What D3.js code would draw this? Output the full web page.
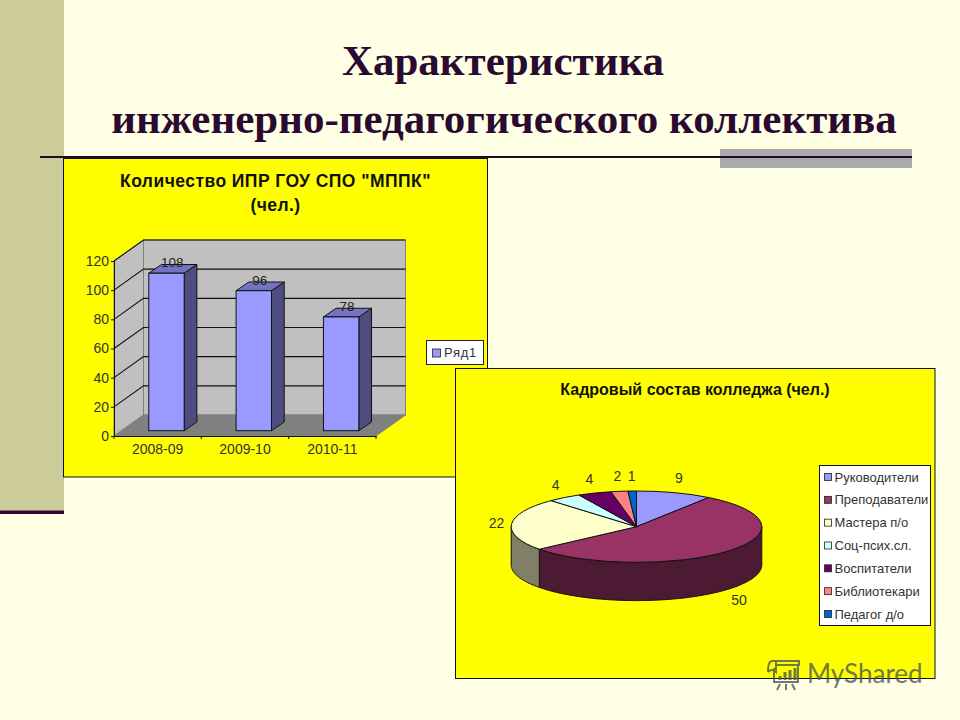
<!DOCTYPE html>
<html lang="ru">
<head>
<meta charset="utf-8">
<script src="https://cdn.jsdelivr.net/npm/d3@7/dist/d3.min.js"></script>
<style>
html,body{margin:0;padding:0;background:#FFFFE6;}
svg{display:block;}
text{font-family:"Liberation Sans",Arial,sans-serif;fill:#111;}
</style>
</head>
<body>
<svg id="c" width="960" height="720"></svg>
<script>
const titleLines = ["Характеристика", "инженерно-педагогического коллектива"];
const barTitle = ['Количество ИПР ГОУ СПО "МППК"', "(чел.)"];
const barCategories = ["2008-09", "2009-10", "2010-11"];
const barValues = [108, 96, 78];
const barSeriesName = "Ряд1";
const yTicks = [0, 20, 40, 60, 80, 100, 120];
const pieTitle = "Кадровый состав колледжа (чел.)";
const pieCategories = ["Руководители", "Преподаватели", "Мастера п/о", "Соц-псих.сл.", "Воспитатели", "Библиотекари", "Педагог д/о"];
const pieValues = [9, 50, 22, 4, 4, 2, 1];
const pieColors = ["#9999FF", "#993366", "#FFFFCC", "#CCFFFF", "#660066", "#FF8080", "#0066CC"];

const svg = d3.select("#c");
const rect = (g, x, y, w, h, fill, stroke, sw) => g.append("rect").attr("x", x).attr("y", y).attr("width", w).attr("height", h)
  .attr("fill", fill).attr("stroke", stroke || "none").attr("stroke-width", sw || 0);
const poly = (g, pts, fill, stroke, sw) => g.append("path").attr("d", d3.line()(pts) + "Z").attr("fill", fill)
  .attr("stroke", stroke || "none").attr("stroke-width", sw || 0).attr("stroke-linejoin", "round");

/* Slide background */
rect(svg, 0, 0, 960, 720, "#FFFFE6");
rect(svg, 0, 0, 64, 511, "#CCCC99");
rect(svg, 0, 510.5, 64, 3.5, "#330033");
rect(svg, 720, 149, 192, 19, "#ABABAF");
svg.append("line").attr("x1", 40).attr("x2", 912).attr("y1", 157).attr("y2", 157).attr("stroke", "#24082A").attr("stroke-width", 2);

svg.selectAll("text.head").data(titleLines).join("text").attr("class", "head")
  .attr("x", (d, i) => i ? 504 : 503).attr("y", (d, i) => i ? 133 : 74.5)
  .attr("text-anchor", "middle")
  .style("font-family", '"Liberation Serif","Times New Roman",serif').style("font-weight", 700).style("font-size", "43px")
  .style("fill", "#2A0A30").text(d => d);

/* Bar chart */
const bar = svg.append("g");
rect(bar, 63.5, 158.5, 424, 318.5, "#FFFF00", "#111", 1);
bar.selectAll("text.t").data(barTitle).join("text").attr("class", "t")
  .attr("x", 275.5).attr("y", (d, i) => 186.5 + i * 24.5).attr("text-anchor", "middle")
  .style("font-weight", 700).style("font-size", "17.5px").style("letter-spacing", "0.45px").text(d => d);

const yS = d3.scaleLinear().domain([0, 120]).range([436, 261]);
const xS = d3.scaleBand().domain(barCategories).range([114, 376]);
const depthX = 29.5, depthY = -21;
const x0 = xS.range()[0], x1 = xS.range()[1], y0 = yS(0), yT = yS(120);

poly(bar, [[x0, y0], [x0 + depthX, y0 + depthY], [x0 + depthX, yT + depthY], [x0, yT]], "#C0C0C0", "#808080", 1);
rect(bar, x0 + depthX, yT + depthY, x1 - x0, y0 - yT, "#C0C0C0", "#808080", 1);
poly(bar, [[x0, y0], [x1, y0], [x1 + depthX, y0 + depthY], [x0 + depthX, y0 + depthY]], "#808080", "#808080", 1);

const grid = yTicks.filter(v => v > 0);
bar.selectAll("path.g").data(grid).join("path").attr("class", "g")
  .attr("d", v => d3.line()([[x0, yS(v)], [x0 + depthX, yS(v) + depthY], [x1 + depthX, yS(v) + depthY]]))
  .attr("fill", "none").attr("stroke", "#111").attr("stroke-width", 1.1);

const barW = 35.4, barDX = 12.7, barDY = -8.7, barShiftX = 8.8, barShiftY = -5.3;
barCategories.forEach((c, i) => {
  const l = xS(c) + xS.bandwidth() / 2 + barShiftX - barW / 2, r = l + barW;
  const b = y0 + barShiftY, t = yS(barValues[i]) + barShiftY;
  poly(bar, [[r, t], [r + barDX, t + barDY], [r + barDX, b + barDY], [r, b]], "#4D4D80", "#111", 1);
  poly(bar, [[l, t], [l + barDX, t + barDY], [r + barDX, t + barDY], [r, t]], "#7373BF", "#111", 1);
  rect(bar, l, t, barW, b - t, "#9999FF", "#111", 1);
  bar.append("text").attr("x", (l + r + barDX) / 2 - 0.5).attr("y", t + barDY + 2.5)
    .attr("text-anchor", "middle").style("font-size", "13.5px").style("fill", "#222").text(barValues[i]);
});

const axL = bar.append("g").attr("transform", `translate(${x0},0)`)
  .call(d3.axisLeft(yS).tickValues(yTicks).tickSize(3).tickPadding(2));
const axB = bar.append("g").attr("transform", `translate(0,${y0})`)
  .call(d3.axisBottom(xS).tickSize(0).tickPadding(8));
bar.selectAll("line.xt").data(d3.range(barCategories.length + 1)).join("line").attr("class", "xt")
  .attr("x1", i => x0 + i * xS.step()).attr("x2", i => x0 + i * xS.step()).attr("y1", y0).attr("y2", y0 + 3).attr("stroke", "#111");
[axL, axB].forEach(a => {
  a.selectAll("text").style("font-family", '"Liberation Sans",Arial,sans-serif').style("font-size", "14px").style("fill", "#333");
  a.selectAll("path,line").attr("stroke", "#111");
});

rect(bar, 426.5, 340.5, 57, 24, "#FFFFFF", "#222", 1);
rect(bar, 432.5, 349, 8, 8, "#9999FF", "#222", 0.8);
bar.append("text").attr("x", 444).attr("y", 357).style("font-size", "13px").style("letter-spacing", "0.7px").style("fill", "#333").text(barSeriesName);

/* Pie chart */
const pg = svg.append("g");
rect(pg, 455.5, 368.5, 479.5, 310, "#FFFF00", "#111", 1);
pg.append("text").attr("x", 695).attr("y", 394.5).attr("text-anchor", "middle")
  .style("font-weight", 700).style("font-size", "16px").text(pieTitle);

const cx = 636.5, cy = 526.7, rx = 125.3, ry = 35.7, thick = 38.2;
const arcs = d3.pie().sort(null).value(d => d)(pieValues);
const px = a => cx + Math.sin(a) * rx, py = a => cy - Math.cos(a) * ry;
const halfPi = Math.PI / 2;

arcs.forEach((a, i) => {
  const s = Math.max(a.startAngle, halfPi), e = Math.min(a.endAngle, 3 * halfPi);
  if (e <= s) return;
  const ts = d3.range(s, e, 0.02).concat([e]);
  const top = ts.map(t => [px(t), py(t)]);
  const bot = ts.slice().reverse().map(t => [px(t), py(t) + thick]);
  const c = d3.rgb(pieColors[i]);
  const dark = d3.rgb(c.r * 0.5, c.g * 0.5, c.b * 0.5).formatHex();
  poly(pg, top.concat(bot), dark, "#111", 1);
});

const arcGen = d3.arc().innerRadius(0).outerRadius(rx);
pg.append("g").attr("transform", `translate(${cx},${cy}) scale(1,${ry / rx})`)
  .selectAll("path").data(arcs).join("path").attr("d", arcGen)
  .attr("fill", (d, i) => pieColors[i]).attr("stroke", "#111").attr("stroke-width", 1)
  .attr("vector-effect", "non-scaling-stroke");

pg.selectAll("text.pl").data(arcs).join("text").attr("class", "pl")
  .attr("x", d => cx + Math.sin((d.startAngle + d.endAngle) / 2) * (rx + 15))
  .attr("y", d => { const c = Math.cos((d.startAngle + d.endAngle) / 2);
    return cy - c * (ry + 15) + (c < 0 ? thick : 0) + 5; })
  .attr("text-anchor", "middle").style("font-size", "14px").style("fill", "#333").text(d => d.data);

rect(pg, 819.5, 465.5, 111, 160, "#FFFFFF", "#111", 1);
const lgY = d3.scalePoint().domain(pieCategories).range([477, 614]);
const lg = pg.selectAll("g.li").data(pieCategories).join("g").attr("class", "li")
  .attr("transform", d => `translate(824.5,${lgY(d)})`);
lg.append("rect").attr("x", 0).attr("y", -3.5).attr("width", 7).attr("height", 7)
  .attr("fill", (d, i) => pieColors[i]).attr("stroke", "#222").attr("stroke-width", 0.8);
lg.append("text").attr("x", 10).attr("y", 4.5).style("font-size", "13px").style("fill", "#333").text(d => d);

/* Watermark */
const wm = svg.append("g").attr("opacity", 0.8);
wm.append("text").attr("x", 807).attr("y", 683)
  .style("font-family", "Lato,sans-serif").style("font-size", "26px").style("fill", "#4E5A50").text("MyShared");
const ic = wm.append("g").attr("fill", "none").attr("stroke", "#4E5A50").attr("stroke-width", 2);
ic.append("path").attr("d", "M772 661 H799 V665 H776 M772 661 Q768 661 768 672 M776 661 V672 Q772 668 768 672");
ic.append("path").attr("d", "M774 668 V682 H798 V665");
ic.append("path").attr("d", "M780 680 V676 M785 680 V672 M790 680 V670 M795 680 V668").attr("stroke-width", 3);
ic.append("path").attr("d", "M780 684 L777 690 M786 684 V690 M792 684 L795 690");
</script>
</body>
</html>
